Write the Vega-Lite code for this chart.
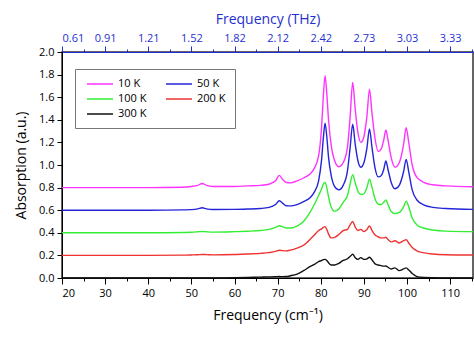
{
  "$schema": "https://vega.github.io/schema/vega-lite/v6.json",
  "width": 411,
  "height": 226,
  "autosize": {"type": "none"},
  "padding": {"left": 62, "top": 52, "right": 1, "bottom": 72},
  "config": {
    "view": {"stroke": "#333", "strokeWidth": 1.5},
    "font": "Open Sans",
    "axis": {"labelFont": "Open Sans", "titleFont": "Open Sans", "labelFontSize": 11, "titleFontSize": 14, "titleFontWeight": "normal", "grid": false, "domainColor": "#000", "tickColor": "#000", "labelColor": "#000", "titleColor": "#000"}
  },
  "data": {"values": [
    {"f": 20, "10 K": 0.80, "50 K": 0.60, "100 K": 0.40, "200 K": 0.20, "300 K": 0},
    {"f": 30, "10 K": 0.80, "50 K": 0.60, "100 K": 0.40, "200 K": 0.20, "300 K": 0},
    {"f": 40, "10 K": 0.80, "50 K": 0.60, "100 K": 0.40, "200 K": 0.20, "300 K": 0},
    {"f": 48, "10 K": 0.803, "50 K": 0.603, "100 K": 0.403, "200 K": 0.202, "300 K": 0},
    {"f": 50, "10 K": 0.81, "50 K": 0.605, "100 K": 0.405, "200 K": 0.204, "300 K": 0},
    {"f": 51.5, "10 K": 0.82, "50 K": 0.612, "100 K": 0.409, "200 K": 0.206, "300 K": 0},
    {"f": 52.5, "10 K": 0.836, "50 K": 0.622, "100 K": 0.412, "200 K": 0.208, "300 K": 0},
    {"f": 53.5, "10 K": 0.82, "50 K": 0.612, "100 K": 0.409, "200 K": 0.207, "300 K": 0},
    {"f": 55, "10 K": 0.81, "50 K": 0.606, "100 K": 0.406, "200 K": 0.205, "300 K": 0},
    {"f": 60, "10 K": 0.81, "50 K": 0.607, "100 K": 0.41, "200 K": 0.208, "300 K": 0.002},
    {"f": 63, "10 K": 0.815, "50 K": 0.61, "100 K": 0.414, "200 K": 0.212, "300 K": 0.005},
    {"f": 66, "10 K": 0.82, "50 K": 0.615, "100 K": 0.42, "200 K": 0.218, "300 K": 0.008},
    {"f": 68, "10 K": 0.83, "50 K": 0.625, "100 K": 0.43, "200 K": 0.225, "300 K": 0.01},
    {"f": 69.5, "10 K": 0.86, "50 K": 0.65, "100 K": 0.448, "200 K": 0.235, "300 K": 0.012},
    {"f": 70.4, "10 K": 0.908, "50 K": 0.683, "100 K": 0.462, "200 K": 0.246, "300 K": 0.013},
    {"f": 71.2, "10 K": 0.87, "50 K": 0.66, "100 K": 0.452, "200 K": 0.242, "300 K": 0.012},
    {"f": 72, "10 K": 0.845, "50 K": 0.64, "100 K": 0.442, "200 K": 0.24, "300 K": 0.013},
    {"f": 73, "10 K": 0.842, "50 K": 0.638, "100 K": 0.442, "200 K": 0.247, "300 K": 0.02},
    {"f": 74.5, "10 K": 0.86, "50 K": 0.65, "100 K": 0.46, "200 K": 0.265, "300 K": 0.035},
    {"f": 76, "10 K": 0.885, "50 K": 0.675, "100 K": 0.50, "200 K": 0.29, "300 K": 0.065},
    {"f": 77.5, "10 K": 0.92, "50 K": 0.71, "100 K": 0.58, "200 K": 0.34, "300 K": 0.10},
    {"f": 78.5, "10 K": 0.97, "50 K": 0.76, "100 K": 0.65, "200 K": 0.38, "300 K": 0.12},
    {"f": 79.5, "10 K": 1.08, "50 K": 0.86, "100 K": 0.73, "200 K": 0.42, "300 K": 0.145},
    {"f": 80.2, "10 K": 1.34, "50 K": 1.05, "100 K": 0.79, "200 K": 0.435, "300 K": 0.155},
    {"f": 80.6, "10 K": 1.61, "50 K": 1.24, "100 K": 0.83, "200 K": 0.448, "300 K": 0.162},
    {"f": 81.0, "10 K": 1.79, "50 K": 1.37, "100 K": 0.845, "200 K": 0.455, "300 K": 0.165},
    {"f": 81.4, "10 K": 1.63, "50 K": 1.25, "100 K": 0.80, "200 K": 0.43, "300 K": 0.155},
    {"f": 81.8, "10 K": 1.40, "50 K": 1.07, "100 K": 0.72, "200 K": 0.39, "300 K": 0.135},
    {"f": 82.4, "10 K": 1.18, "50 K": 0.91, "100 K": 0.63, "200 K": 0.355, "300 K": 0.115},
    {"f": 83.2, "10 K": 1.04, "50 K": 0.81, "100 K": 0.59, "200 K": 0.36, "300 K": 0.115},
    {"f": 84.2, "10 K": 0.985, "50 K": 0.78, "100 K": 0.61, "200 K": 0.385, "300 K": 0.13},
    {"f": 85.2, "10 K": 1.02, "50 K": 0.82, "100 K": 0.67, "200 K": 0.42, "300 K": 0.155},
    {"f": 86.2, "10 K": 1.16, "50 K": 0.95, "100 K": 0.73, "200 K": 0.43, "300 K": 0.17},
    {"f": 86.8, "10 K": 1.42, "50 K": 1.15, "100 K": 0.83, "200 K": 0.47, "300 K": 0.19},
    {"f": 87.4, "10 K": 1.73, "50 K": 1.36, "100 K": 0.915, "200 K": 0.50, "300 K": 0.21},
    {"f": 88.0, "10 K": 1.49, "50 K": 1.18, "100 K": 0.84, "200 K": 0.45, "300 K": 0.18},
    {"f": 88.6, "10 K": 1.29, "50 K": 1.04, "100 K": 0.77, "200 K": 0.42, "300 K": 0.165},
    {"f": 89.3, "10 K": 1.20, "50 K": 0.98, "100 K": 0.74, "200 K": 0.43, "300 K": 0.18},
    {"f": 90.0, "10 K": 1.25, "50 K": 1.02, "100 K": 0.745, "200 K": 0.41, "300 K": 0.165},
    {"f": 90.7, "10 K": 1.43, "50 K": 1.15, "100 K": 0.80, "200 K": 0.43, "300 K": 0.17},
    {"f": 91.3, "10 K": 1.67, "50 K": 1.32, "100 K": 0.875, "200 K": 0.46, "300 K": 0.183},
    {"f": 91.9, "10 K": 1.45, "50 K": 1.15, "100 K": 0.80, "200 K": 0.42, "300 K": 0.16},
    {"f": 92.6, "10 K": 1.23, "50 K": 0.97, "100 K": 0.70, "200 K": 0.38, "300 K": 0.125},
    {"f": 93.3, "10 K": 1.12, "50 K": 0.895, "100 K": 0.655, "200 K": 0.365, "300 K": 0.115},
    {"f": 94.0, "10 K": 1.14, "50 K": 0.905, "100 K": 0.65, "200 K": 0.355, "300 K": 0.11},
    {"f": 94.6, "10 K": 1.22, "50 K": 0.96, "100 K": 0.67, "200 K": 0.355, "300 K": 0.105},
    {"f": 95.1, "10 K": 1.31, "50 K": 1.035, "100 K": 0.69, "200 K": 0.36, "300 K": 0.106},
    {"f": 95.6, "10 K": 1.22, "50 K": 0.96, "100 K": 0.65, "200 K": 0.34, "300 K": 0.095},
    {"f": 96.3, "10 K": 1.07, "50 K": 0.85, "100 K": 0.59, "200 K": 0.32, "300 K": 0.08},
    {"f": 97.2, "10 K": 0.98, "50 K": 0.79, "100 K": 0.57, "200 K": 0.33, "300 K": 0.09},
    {"f": 98.2, "10 K": 1.02, "50 K": 0.82, "100 K": 0.58, "200 K": 0.31, "300 K": 0.065},
    {"f": 99.2, "10 K": 1.18, "50 K": 0.94, "100 K": 0.63, "200 K": 0.33, "300 K": 0.08},
    {"f": 99.8, "10 K": 1.33, "50 K": 1.05, "100 K": 0.68, "200 K": 0.34, "300 K": 0.09},
    {"f": 100.4, "10 K": 1.20, "50 K": 0.94, "100 K": 0.63, "200 K": 0.31, "300 K": 0.07},
    {"f": 101.2, "10 K": 1.00, "50 K": 0.78, "100 K": 0.53, "200 K": 0.27, "300 K": 0.04},
    {"f": 102.3, "10 K": 0.89, "50 K": 0.69, "100 K": 0.47, "200 K": 0.24, "300 K": 0.012},
    {"f": 104, "10 K": 0.845, "50 K": 0.645, "100 K": 0.44, "200 K": 0.222, "300 K": 0.004},
    {"f": 106, "10 K": 0.825, "50 K": 0.625, "100 K": 0.425, "200 K": 0.212, "300 K": 0.002},
    {"f": 109, "10 K": 0.815, "50 K": 0.615, "100 K": 0.415, "200 K": 0.206, "300 K": 0.001},
    {"f": 115.3, "10 K": 0.807, "50 K": 0.607, "100 K": 0.41, "200 K": 0.203, "300 K": 0}
  ]},
  "transform": [{"fold": ["10 K", "50 K", "100 K", "200 K", "300 K"], "as": ["T", "A"]}],
  "layer": [
    {
      "mark": {"type": "line", "strokeWidth": 1.4, "interpolate": "monotone"},
      "encoding": {
        "x": {"field": "f", "type": "quantitative",
          "scale": {"domain": [20, 115.3], "nice": false, "zero": false},
          "axis": {"orient": "bottom", "title": "Frequency (cm⁻¹)", "format": "d",
            "values": [20, 25, 30, 35, 40, 45, 50, 55, 60, 65, 70, 75, 80, 85, 90, 95, 100, 105, 110, 115],
            "labelExpr": "datum.value % 10 === 0 ? datum.label : ''",
            "tickSize": {"condition": {"test": "datum.value % 10 === 0", "value": 6}, "value": 3},
            "labelPadding": 3, "titlePadding": 10}},
        "y": {"field": "A", "type": "quantitative",
          "scale": {"domain": [0, 2], "nice": false},
          "axis": {"title": "Absorption (a.u.)", "format": ".1f",
            "values": [0, 0.2, 0.4, 0.6, 0.8, 1.0, 1.2, 1.4, 1.6, 1.8, 2.0],
            "tickSize": 5, "labelPadding": 3, "titlePadding": 10}},
        "color": {"field": "T", "type": "nominal",
          "scale": {"domain": ["10 K", "50 K", "100 K", "200 K", "300 K"], "range": ["#ff33ff", "#2424d8", "#33ee33", "#ee3333", "#111111"]},
          "legend": {"orient": "none", "legendX": 13, "legendY": 17, "columns": 2, "direction": "horizontal", "title": null,
            "symbolType": "M-0.6,0H4.6", "symbolSize": 100, "symbolStrokeWidth": 1.5,
            "labelFontSize": 11, "labelFont": "Open Sans", "labelColor": "#000",
            "strokeColor": "#777", "fillColor": "#fff", "padding": 9,
            "columnPadding": 16, "rowPadding": 4, "labelOffset": 22}}
      }
    },
    {
      "mark": {"type": "point", "opacity": 0},
      "encoding": {
        "x": {"field": "f", "type": "quantitative",
          "scale": {"domain": [20, 115.3], "nice": false, "zero": false},
          "axis": {"orient": "top", "title": "Frequency (THz)",
            "values": [20, 25, 30, 35, 40, 45, 50, 55, 60, 65, 70, 75, 80, 85, 90, 95, 100, 105, 110, 115],
            "labelExpr": "datum.value % 10 === 0 ? ['0.61','0.91','1.21','1.52','1.82','2.12','2.42','2.73','3.03','3.33'][(datum.value-20)/10] : ''",
            "tickSize": {"condition": {"test": "datum.value % 10 === 0", "value": 6}, "value": 3},
            "labelColor": "#1f2fd0", "titleColor": "#1f2fd0", "domainColor": "#1f2fd0", "tickColor": "#1f2fd0",
            "labelPadding": 3, "titlePadding": 6}}
      }
    }
  ],
  "resolve": {"axis": {"x": "independent"}}
}
